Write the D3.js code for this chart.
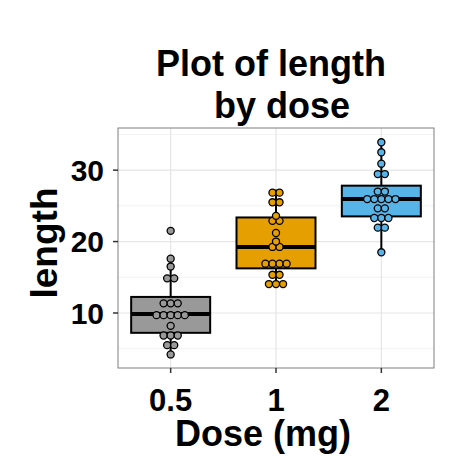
<!DOCTYPE html>
<html><head><meta charset="utf-8">
<script src="https://cdn.jsdelivr.net/npm/d3@7"></script>
<style>body{margin:0;background:#fff}text{font-family:"Liberation Sans",Arial,sans-serif;font-weight:bold}</style>
</head><body><svg id="c" width="474" height="474"></svg>
<script>
const doses = ["0.5", "1", "2"];
const colors = ["#999999", "#E69F00", "#56B4E9"];
const len05 = [4.2,11.5,7.3,5.8,6.4,10,11.2,11.2,5.2,7,15.2,21.5,17.6,9.7,14.5,10,8.2,9.4,16.5,9.7];
const len1 = [16.5,16.5,15.2,17.3,22.5,17.3,13.6,14.5,18.8,15.5,19.7,23.3,23.6,26.4,20,25.2,25.8,21.2,14.5,27.3];
const len2 = [23.6,18.5,33.9,25.5,26.4,32.5,26.7,21.5,23.3,29.5,25.5,26.4,22.4,24.5,24.8,30.9,26.4,27.3,29.4,23];
const groups = [len05, len1, len2];
const yTicks = [10, 20, 30];

const svg = d3.select("#c");
const m = {left: 118, right: 434, top: 128, bottom: 368};
const x = d3.scaleBand().domain(doses).range([m.left, m.right]).padding(0);
const y = d3.scaleLinear().domain([2.3, 35.9]).range([m.bottom, m.top]);

svg.append("rect").attr("x", m.left).attr("y", m.top)
  .attr("width", m.right - m.left).attr("height", m.bottom - m.top).attr("fill", "#fff");
[5, 15, 25, 35].forEach(v => svg.append("line").attr("x1", m.left).attr("x2", m.right)
  .attr("y1", y(v)).attr("y2", y(v)).attr("stroke", "#f2f2f2").attr("stroke-width", 1));
yTicks.forEach(v => svg.append("line").attr("x1", m.left).attr("x2", m.right)
  .attr("y1", y(v)).attr("y2", y(v)).attr("stroke", "#e5e5e5").attr("stroke-width", 1.2));
doses.forEach(d => svg.append("line").attr("y1", m.top).attr("y2", m.bottom)
  .attr("x1", x(d) + x.bandwidth() / 2).attr("x2", x(d) + x.bandwidth() / 2)
  .attr("stroke", "#e5e5e5").attr("stroke-width", 1.2));

const all = groups.flat();
const binwidth = (d3.max(all) - d3.min(all)) / 30;
const r = (y(0) - y(binwidth)) / 2;
const bw = x.bandwidth() * 0.75;

groups.forEach((vals, i) => {
  const cx = x(doses[i]) + x.bandwidth() / 2;
  const s = vals.slice().sort(d3.ascending);
  const q1 = d3.quantile(s, 0.25), med = d3.quantile(s, 0.5), q3 = d3.quantile(s, 0.75);
  const iqr = q3 - q1;
  const lo = d3.min(s.filter(v => v >= q1 - 1.5 * iqr));
  const hi = d3.max(s.filter(v => v <= q3 + 1.5 * iqr));
  const g = svg.append("g");
  g.append("line").attr("x1", cx).attr("x2", cx).attr("y1", y(q3)).attr("y2", y(hi)).attr("stroke", "#000").attr("stroke-width", 2);
  g.append("line").attr("x1", cx).attr("x2", cx).attr("y1", y(q1)).attr("y2", y(lo)).attr("stroke", "#000").attr("stroke-width", 2);
  g.append("rect").attr("x", cx - bw / 2).attr("width", bw).attr("y", y(q3)).attr("height", y(q1) - y(q3))
    .attr("fill", colors[i]).attr("stroke", "#000").attr("stroke-width", 2);
  g.append("line").attr("x1", cx - bw / 2).attr("x2", cx + bw / 2).attr("y1", y(med)).attr("y2", y(med))
    .attr("stroke", "#000").attr("stroke-width", 4);
  const bins = [];
  let cur = null;
  s.forEach(v => {
    if (cur && v < cur.start + binwidth) { cur.vals.push(v); }
    else { cur = {start: v, vals: [v]}; bins.push(cur); }
  });
  bins.forEach(b => {
    const c = (b.vals[0] + b.vals[b.vals.length - 1]) / 2;
    const n = b.vals.length;
    b.vals.forEach((v, k) => {
      g.append("circle").attr("cx", cx + (k - (n - 1) / 2) * 2 * r).attr("cy", y(c)).attr("r", r)
        .attr("fill", colors[i]).attr("stroke", "#000").attr("stroke-width", 1.3);
    });
  });
});

svg.append("rect").attr("x", m.left).attr("y", m.top)
  .attr("width", m.right - m.left).attr("height", m.bottom - m.top).attr("fill", "none").attr("stroke", "#7f7f7f");

yTicks.forEach(v => {
  svg.append("line").attr("x1", m.left - 5).attr("x2", m.left).attr("y1", y(v)).attr("y2", y(v)).attr("stroke", "#333").attr("stroke-width", 1.5);
  svg.append("text").attr("x", m.left - 14).attr("y", y(v)).attr("dy", "0.36em").attr("text-anchor", "end")
    .attr("font-size", 30).text(v);
});
doses.forEach(d => {
  const cx = x(d) + x.bandwidth() / 2;
  svg.append("line").attr("x1", cx).attr("x2", cx).attr("y1", m.bottom).attr("y2", m.bottom + 5).attr("stroke", "#333").attr("stroke-width", 1.5);
  svg.append("text").attr("x", cx).attr("y", m.bottom + 43).attr("text-anchor", "middle").attr("font-size", 31).text(d);
});
svg.append("text").attr("x", 263).attr("y", 446).attr("text-anchor", "middle").attr("font-size", 36).text("Dose (mg)");
svg.append("text").attr("transform", `translate(57,243) rotate(-90)`).attr("text-anchor", "middle").attr("font-size", 37).text("length");
svg.append("text").attr("x", 271).attr("y", 76).attr("text-anchor", "middle").attr("font-size", 36).text("Plot of length");
svg.append("text").attr("x", 282).attr("y", 118).attr("text-anchor", "middle").attr("font-size", 36).text("by dose");
</script></body></html>
